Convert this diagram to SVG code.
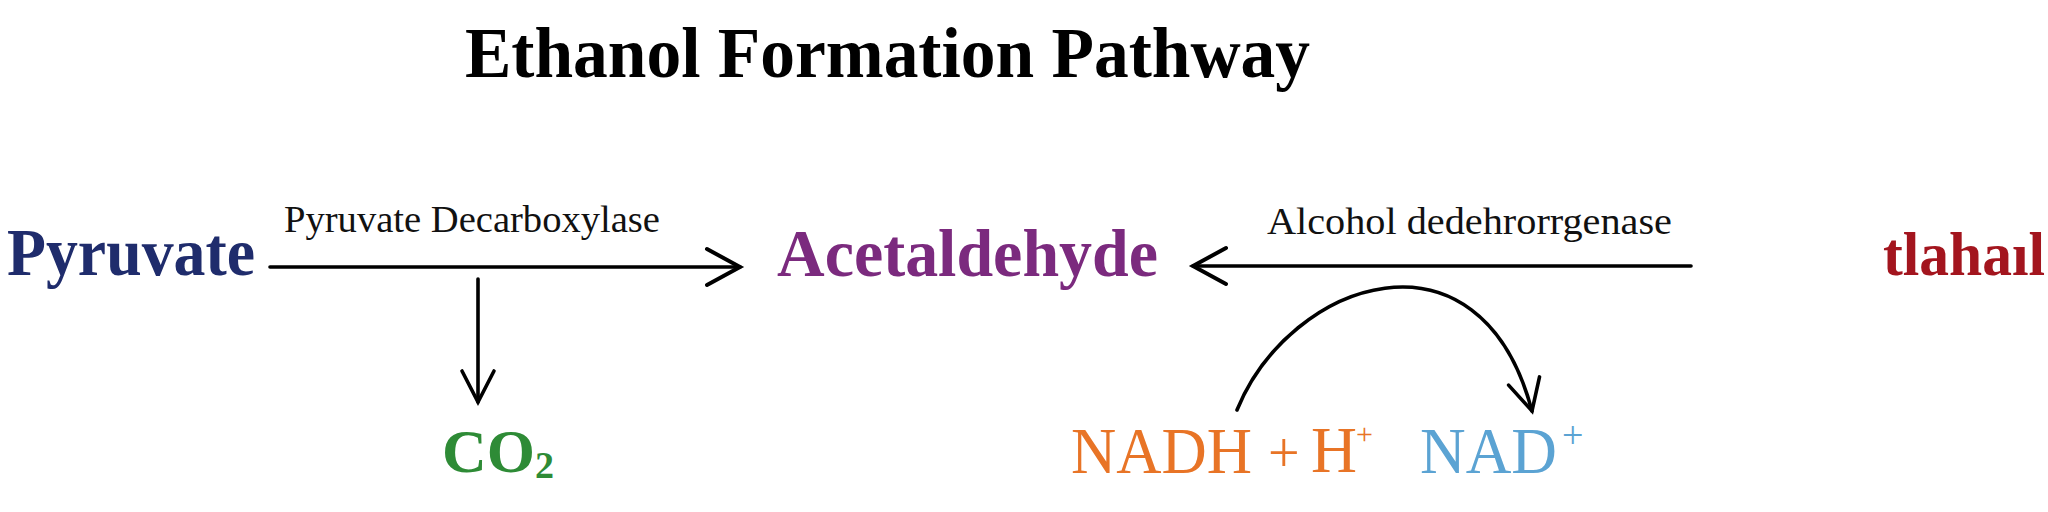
<svg xmlns="http://www.w3.org/2000/svg" width="2048" height="512" viewBox="0 0 2048 512">
<style>
.t{font-family:"Liberation Serif","Times New Roman",serif}
.b{font-weight:bold}
.lbl{font-size:38px;fill:#111}
.ln{fill:none;stroke:#000;stroke-width:3.6;stroke-linecap:round;stroke-linejoin:round}
</style>
<defs>
<marker id="chev" markerUnits="userSpaceOnUse" viewBox="-40 -22 44 44" markerWidth="44" markerHeight="44" refX="0" refY="0" orient="auto" overflow="visible">
<path d="M-33 -18 L0 0 L-33 18" fill="none" stroke="#000" stroke-width="4" stroke-linecap="round" stroke-linejoin="miter"/>
</marker>
<marker id="chevs" markerUnits="userSpaceOnUse" viewBox="-40 -22 44 44" markerWidth="44" markerHeight="44" refX="0" refY="0" orient="auto" overflow="visible">
<path d="M-31 -16 L0 0 L-31 16" fill="none" stroke="#000" stroke-width="3.6" stroke-linecap="round" stroke-linejoin="miter"/>
</marker>
</defs>
<rect width="2048" height="512" fill="#fff"/>
<g id="title"><text class="t b" x="465" y="77" font-size="71" fill="#000" textLength="845" lengthAdjust="spacingAndGlyphs">Ethanol Formation Pathway</text></g>
<g id="connectors">
<line class="ln" x1="270" y1="267" x2="740" y2="267" marker-end="url(#chev)" stroke-width="4"/>
<line class="ln" x1="478" y1="279" x2="478" y2="402" marker-end="url(#chevs)"/>
<line class="ln" x1="1691" y1="266" x2="1193" y2="266" marker-end="url(#chev)" stroke-width="4"/>
<path class="ln" d="M1237 410 C1290 280 1480 215 1532 411" marker-end="url(#chevs)"/>
<text class="t lbl" x="284" y="232" textLength="376" lengthAdjust="spacingAndGlyphs">Pyruvate Decarboxylase</text>
<text class="t lbl" x="1267" y="234" textLength="405" lengthAdjust="spacingAndGlyphs">Alcohol dedehrorrgenase</text>
</g>
<g id="pyruvate"><text class="t b" x="7" y="275" font-size="67" fill="#1f2c6c" textLength="248" lengthAdjust="spacingAndGlyphs">Pyruvate</text></g>
<g id="acetaldehyde"><text class="t b" x="777" y="276" font-size="68" fill="#7b2a7e" textLength="381" lengthAdjust="spacingAndGlyphs">Acetaldehyde</text></g>
<g id="ethanol"><text class="t b" x="1883" y="275" font-size="62" fill="#a3151e" textLength="162" lengthAdjust="spacingAndGlyphs">tlahaıl</text></g>
<g id="co2"><text class="t b" x="442" y="472" font-size="62" fill="#2e8b36"><tspan textLength="93" lengthAdjust="spacingAndGlyphs">CO</tspan><tspan x="535" y="478" font-size="38">2</tspan></text></g>
<g id="nadh"><text class="t" y="473" font-size="66" fill="#e87426"><tspan x="1071" textLength="181" lengthAdjust="spacingAndGlyphs">NADH</tspan><tspan x="1268" font-size="56" y="472">+</tspan><tspan x="1311" textLength="46" lengthAdjust="spacingAndGlyphs">H</tspan><tspan x="1356" y="444" font-size="30">+</tspan></text></g>
<g id="nad"><text class="t" y="473" font-size="66" fill="#5ba3d3"><tspan x="1420" textLength="137" lengthAdjust="spacingAndGlyphs">NAD</tspan><tspan x="1562" y="448" font-size="38">+</tspan></text></g>
</svg>
